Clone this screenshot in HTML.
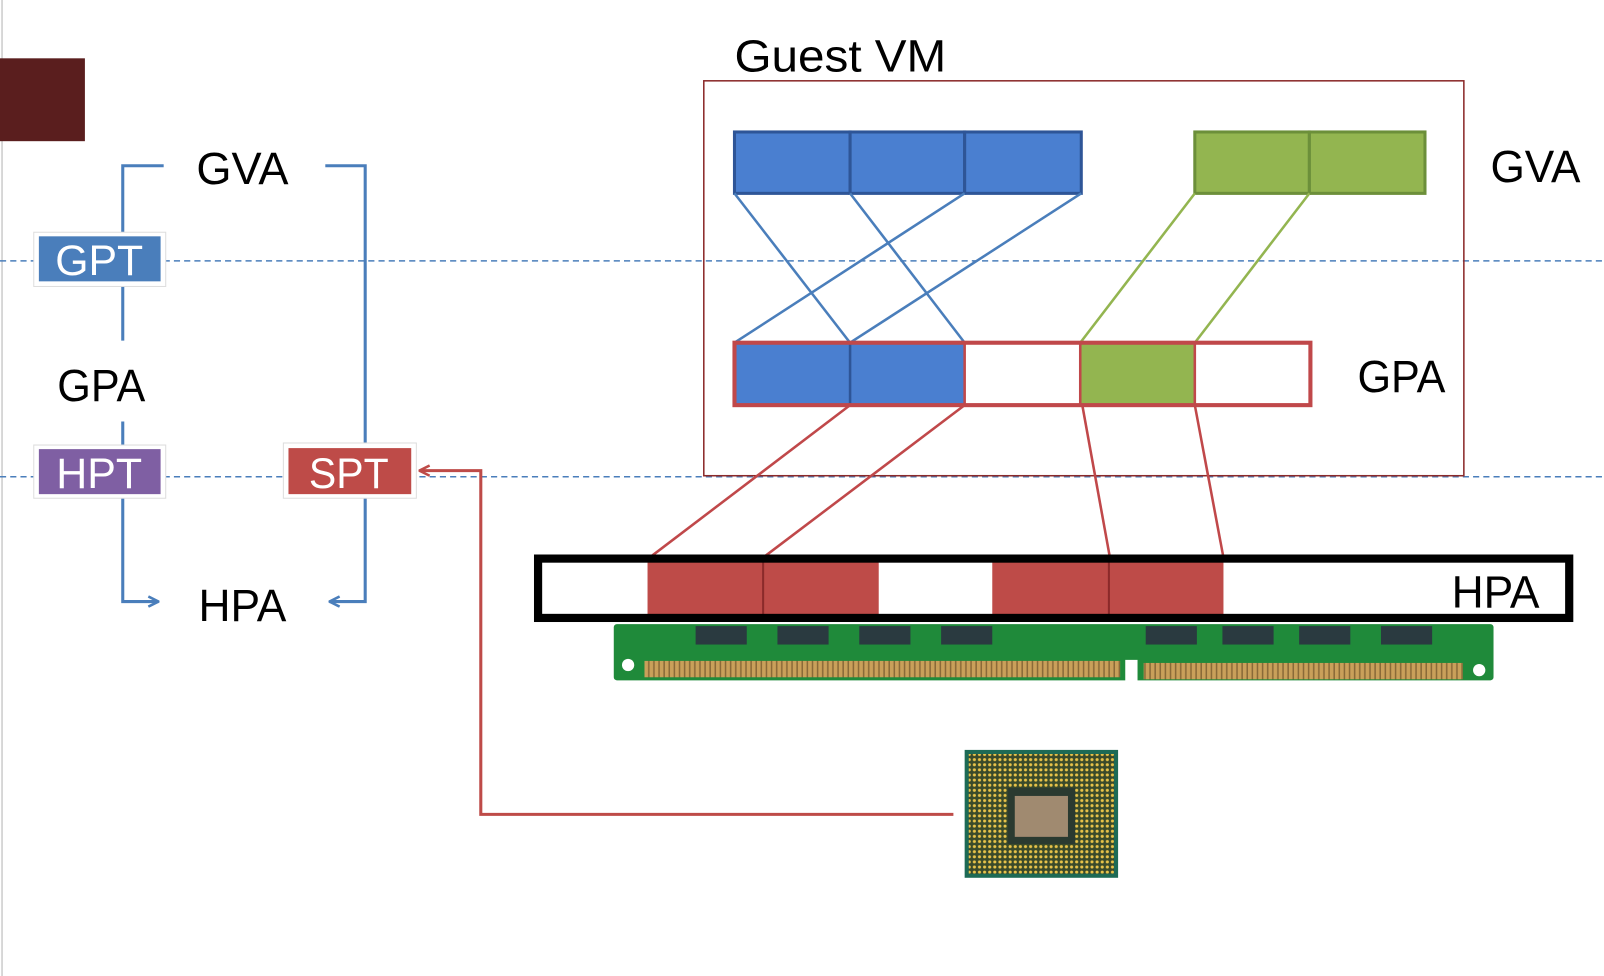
<!DOCTYPE html>
<html><head><meta charset="utf-8"><style>html,body{margin:0;padding:0;background:#fff;overflow:hidden}svg{display:block}</style></head>
<body>
<svg width="1604" height="976" viewBox="0 0 1568 954" preserveAspectRatio="none" xmlns="http://www.w3.org/2000/svg" font-family="'Liberation Sans', sans-serif">
<defs>
<pattern id="pins" width="5" height="5" patternUnits="userSpaceOnUse"><rect width="5" height="5" fill="#3a4a2a"/><circle cx="2.5" cy="2.5" r="1.5" fill="#e8c34a"/></pattern>
<pattern id="gold" width="5" height="10" patternUnits="userSpaceOnUse"><rect width="5" height="10" fill="#c9a05a"/><rect x="3.5" width="1.5" height="10" fill="#8a6a38"/></pattern>
<marker id="ab" viewBox="0 0 12 12" refX="11" refY="6" markerWidth="12" markerHeight="12" markerUnits="userSpaceOnUse" orient="auto"><path d="M1,1 L11,6 L1,11" fill="none" stroke="#4a7ebb" stroke-width="2.5"/></marker>
<marker id="ar" viewBox="0 0 12 12" refX="11" refY="6" markerWidth="12" markerHeight="12" markerUnits="userSpaceOnUse" orient="auto"><path d="M1,1 L11,6 L1,11" fill="none" stroke="#be4b48" stroke-width="2.5"/></marker>
</defs>
<line x1="2" y1="0" x2="2" y2="954" stroke="#ccc" stroke-width="1.5"/>
<rect x="0" y="57" width="83" height="81" fill="#5a1e1e"/>
<!-- dashed lines -->
<line x1="0" y1="255" x2="1568" y2="255" stroke="#4a7ebb" stroke-width="1.5" stroke-dasharray="6,4"/>
<line x1="0" y1="466" x2="1568" y2="466" stroke="#4a7ebb" stroke-width="1.5" stroke-dasharray="6,4"/>
<!-- left brackets -->
<polyline points="160,162 120,162 120,333" fill="none" stroke="#4a7ebb" stroke-width="3"/>
<polyline points="120,412 120,588 155,588" fill="none" stroke="#4a7ebb" stroke-width="3" marker-end="url(#ab)"/>
<polyline points="318,162 357,162 357,588 322,588" fill="none" stroke="#4a7ebb" stroke-width="3" marker-end="url(#ab)"/>
<!-- boxes -->
<rect x="33" y="227" width="129" height="53" fill="#fff" stroke="#ddd" stroke-width="1"/>
<rect x="38" y="231" width="119" height="44" fill="#4a7ebb"/>
<text x="97" y="269" font-size="42" fill="#fff" text-anchor="middle" textLength="86" lengthAdjust="spacingAndGlyphs">GPT</text>
<rect x="33" y="435" width="129" height="52" fill="#fff" stroke="#ddd" stroke-width="1"/>
<rect x="38" y="439" width="119" height="44" fill="#7f5fa3"/>
<text x="97" y="477" font-size="42" fill="#fff" text-anchor="middle" textLength="84" lengthAdjust="spacingAndGlyphs">HPT</text>
<rect x="277" y="433" width="130" height="54" fill="#fff" stroke="#ddd" stroke-width="1"/>
<rect x="282" y="438" width="120" height="45" fill="#be4b48"/>
<text x="341" y="477" font-size="42" fill="#fff" text-anchor="middle" textLength="78" lengthAdjust="spacingAndGlyphs">SPT</text>
<text x="237" y="180" font-size="44" text-anchor="middle" textLength="90" lengthAdjust="spacingAndGlyphs">GVA</text>
<text x="99" y="392" font-size="44" text-anchor="middle" textLength="86" lengthAdjust="spacingAndGlyphs">GPA</text>
<text x="237" y="607" font-size="44" text-anchor="middle" textLength="86" lengthAdjust="spacingAndGlyphs">HPA</text>
<!-- red connector -->
<polyline points="932,796 470,796 470,460 410,460" fill="none" stroke="#be4b48" stroke-width="3" marker-end="url(#ar)"/>
<!-- guest VM -->
<text x="718" y="70" font-size="44" textLength="207" lengthAdjust="spacingAndGlyphs">Guest VM</text>
<rect x="688" y="79" width="743" height="386" fill="none" stroke="#8b2a2a" stroke-width="1.5"/>
<g stroke="#2e5597" stroke-width="3" fill="#4a7fd0">
<rect x="718" y="129" width="113" height="60"/><rect x="831" y="129" width="112" height="60"/><rect x="943" y="129" width="114" height="60"/>
</g>
<g stroke="#6c8f3a" stroke-width="3" fill="#93b550">
<rect x="1168" y="129" width="112" height="60"/><rect x="1280" y="129" width="113" height="60"/>
</g>
<text x="1501" y="178" font-size="44" text-anchor="middle" textLength="88" lengthAdjust="spacingAndGlyphs">GVA</text>
<g stroke="#4a7ebb" stroke-width="2.5">
<line x1="718" y1="189" x2="831" y2="335"/><line x1="831" y1="189" x2="943" y2="335"/>
<line x1="943" y1="189" x2="718" y2="335"/><line x1="1057" y1="189" x2="831" y2="335"/>
</g>
<g stroke="#93b550" stroke-width="2.5">
<line x1="1168" y1="189" x2="1056" y2="335"/><line x1="1280" y1="189" x2="1168" y2="335"/>
</g>
<rect x="718" y="335" width="113" height="61" fill="#4a7fd0"/>
<rect x="831" y="335" width="112" height="61" fill="#4a7fd0"/>
<rect x="1056" y="335" width="112" height="61" fill="#93b550"/>
<line x1="831" y1="335" x2="831" y2="396" stroke="#2e5597" stroke-width="2.5"/>
<g stroke="#c0484a" stroke-width="2.5"><line x1="943" y1="335" x2="943" y2="396"/><line x1="1056" y1="335" x2="1056" y2="396"/><line x1="1168" y1="335" x2="1168" y2="396"/></g>
<rect x="718" y="335" width="563" height="61" fill="none" stroke="#c0484a" stroke-width="4"/>
<text x="1370" y="383" font-size="44" text-anchor="middle" textLength="86" lengthAdjust="spacingAndGlyphs">GPA</text>
<g stroke="#c0484a" stroke-width="2.5">
<line x1="831" y1="396" x2="635" y2="545"/><line x1="943" y1="396" x2="746" y2="545"/>
<line x1="1058" y1="396" x2="1085" y2="545"/><line x1="1168" y1="396" x2="1196" y2="545"/>
</g>
<!-- RAM -->
<rect x="600" y="610" width="860" height="55" fill="#1f8a3a" rx="3"/>
<rect x="630" y="646" width="465" height="16" fill="url(#gold)"/>
<rect x="1118" y="648" width="312" height="16" fill="url(#gold)"/>
<rect x="1100" y="645" width="12" height="22" fill="#fff"/>
<g fill="#2a3a40"><rect x="680" y="612" width="50" height="18"/><rect x="760" y="612" width="50" height="18"/><rect x="840" y="612" width="50" height="18"/><rect x="920" y="612" width="50" height="18"/><rect x="1120" y="612" width="50" height="18"/><rect x="1195" y="612" width="50" height="18"/><rect x="1270" y="612" width="50" height="18"/><rect x="1350" y="612" width="50" height="18"/></g>
<circle cx="614" cy="650" r="6" fill="#fff"/><circle cx="1446" cy="655" r="6" fill="#fff"/>
<!-- HPA bar -->
<rect x="633" y="549" width="113" height="52" fill="#be4b48"/>
<rect x="746" y="549" width="113" height="52" fill="#be4b48"/>
<rect x="970" y="549" width="114" height="52" fill="#be4b48"/>
<rect x="1084" y="549" width="112" height="52" fill="#be4b48"/>
<g stroke="#8b2a2a" stroke-width="2"><line x1="746" y1="549" x2="746" y2="601"/><line x1="1084" y1="549" x2="1084" y2="601"/></g>
<rect x="526" y="546" width="1008" height="58" fill="none" stroke="#000" stroke-width="8"/>
<text x="1462" y="594" font-size="44" text-anchor="middle" textLength="86" lengthAdjust="spacingAndGlyphs">HPA</text>
<!-- CPU -->
<rect x="943" y="733" width="150" height="125" fill="#1d6a55"/>
<rect x="947" y="737" width="142" height="117" fill="url(#pins)"/>
<rect x="985" y="770" width="66" height="55" fill="#2a3a30"/>
<rect x="992" y="778" width="52" height="40" fill="#a08a70"/>
</svg>
</body></html>
